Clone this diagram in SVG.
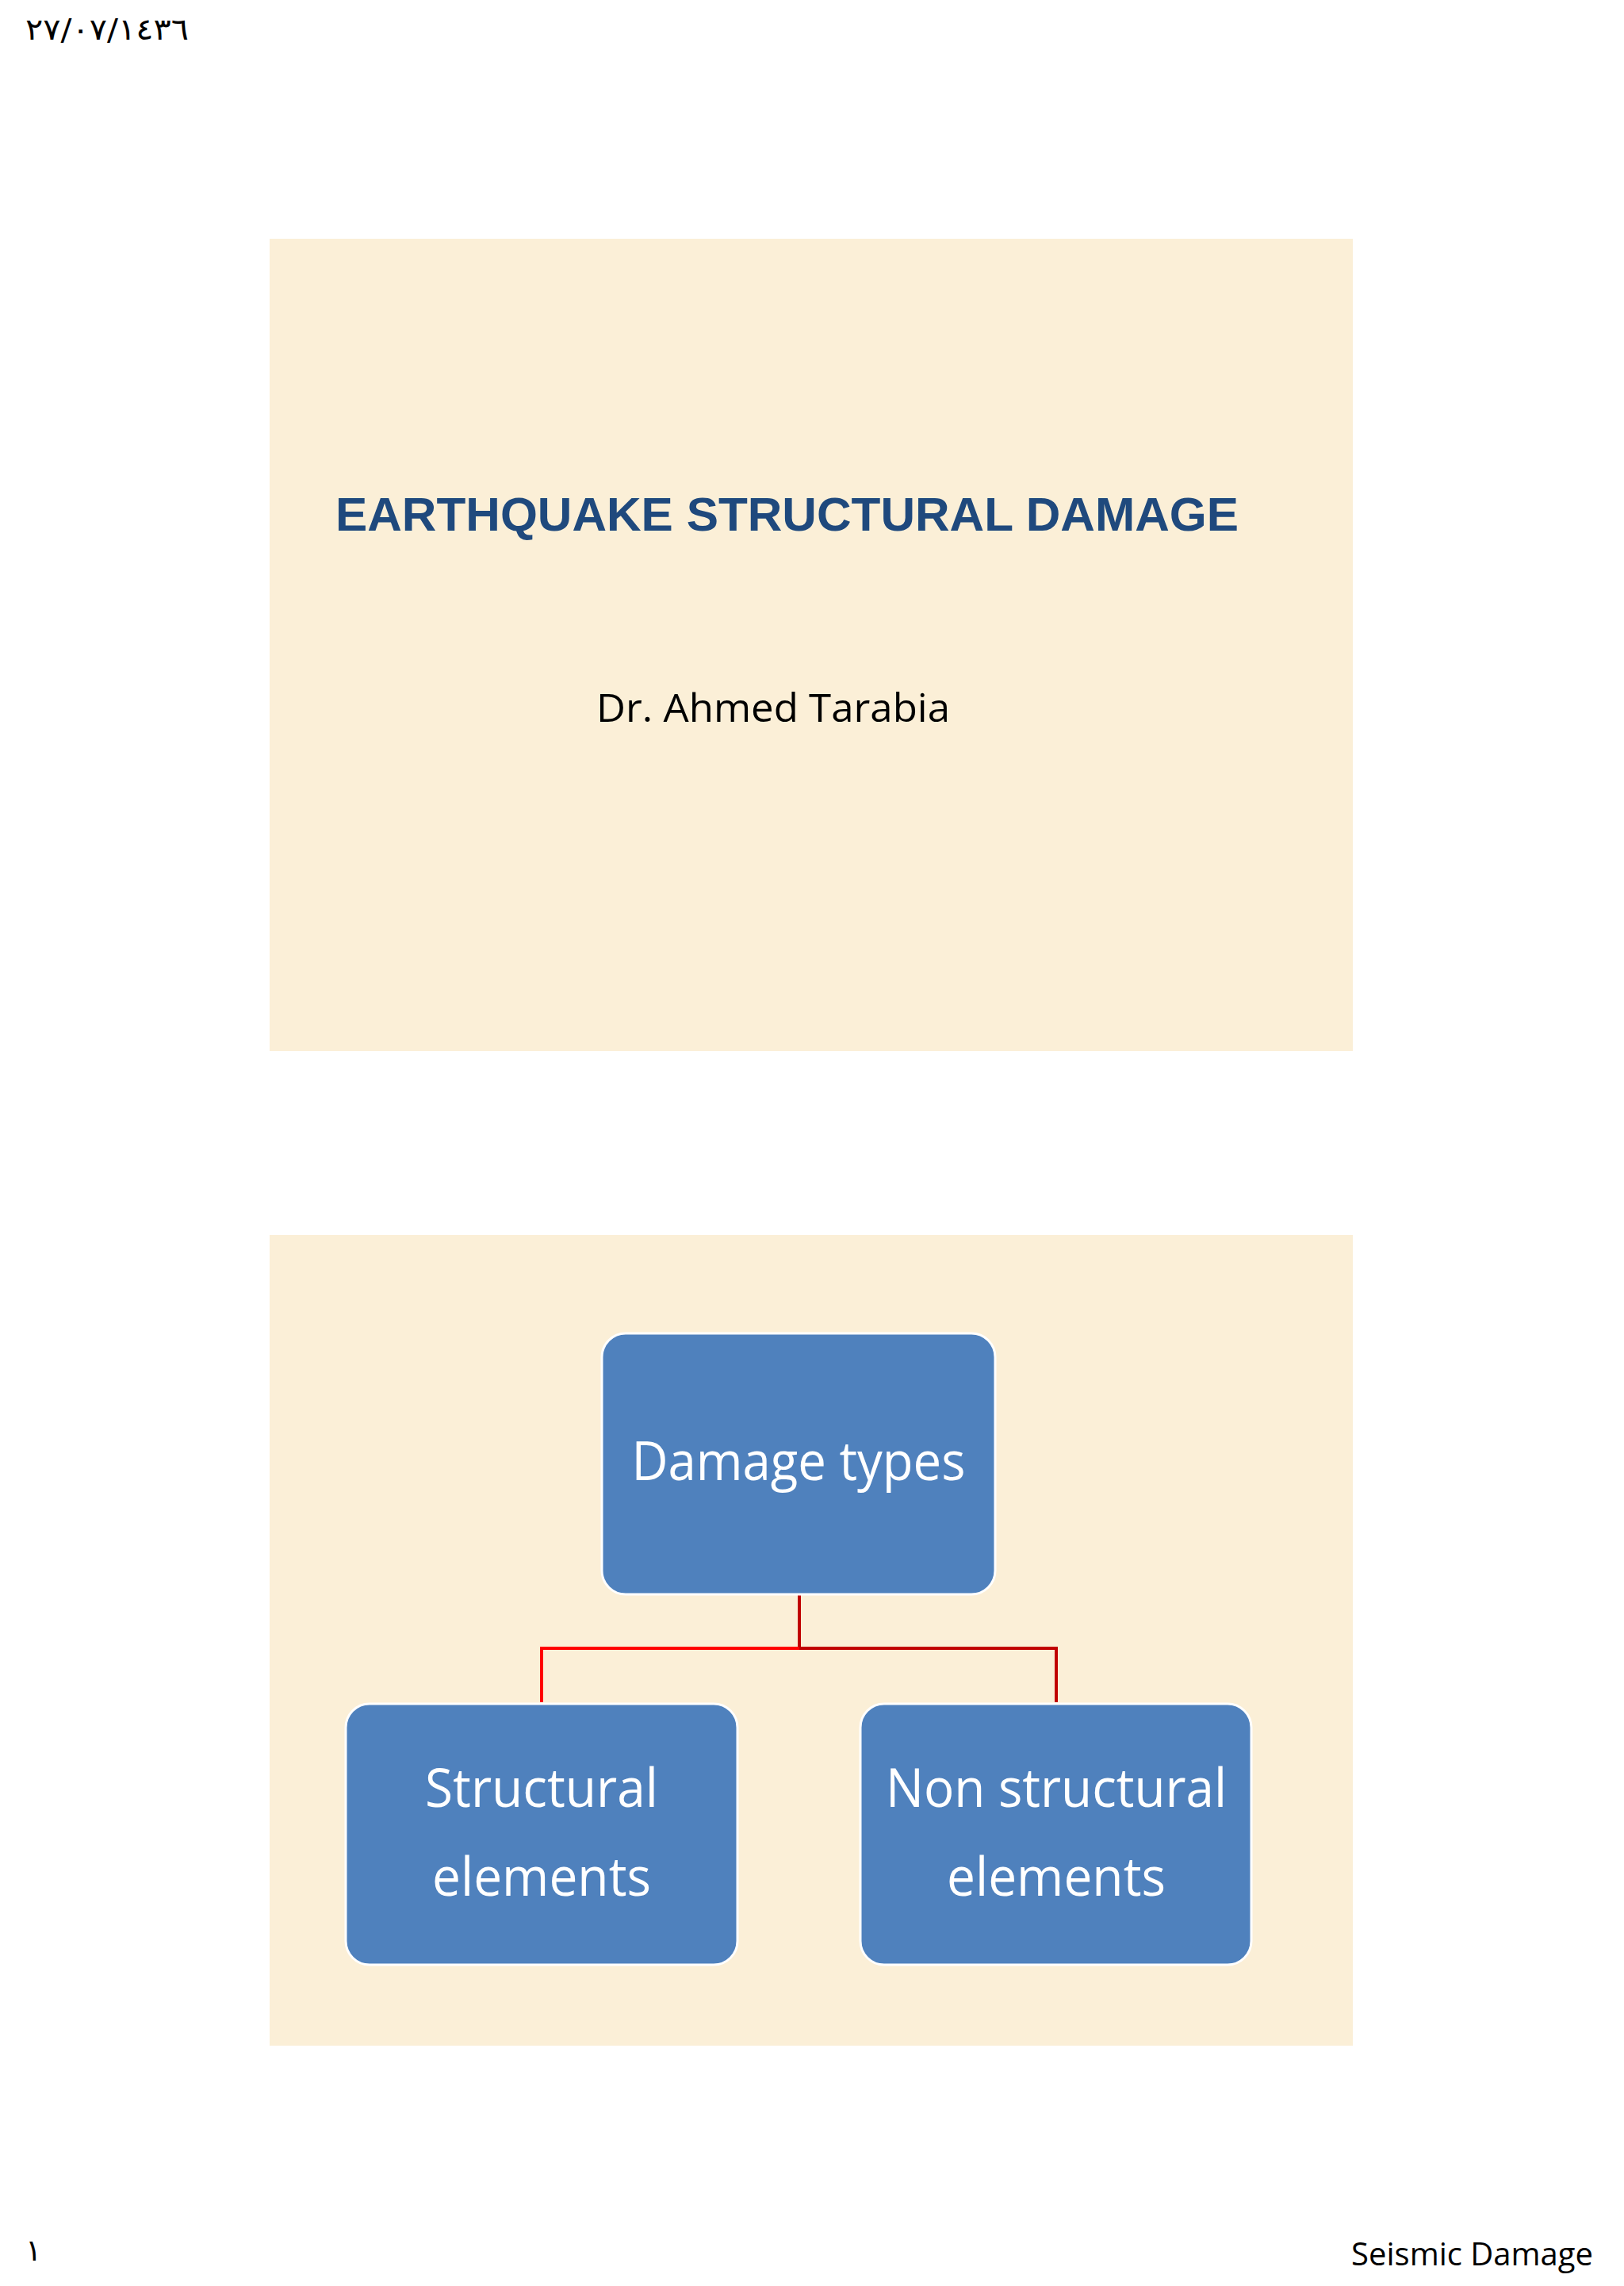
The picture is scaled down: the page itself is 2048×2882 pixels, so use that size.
<svg xmlns="http://www.w3.org/2000/svg" width="2048" height="2882" viewBox="0 0 2048 2882">
<style>
.slide{fill:#fbefd7}
.box{fill:#4f81bd;stroke:#ffffff;stroke-width:3}
.bt{font-family:"Open Sans","Liberation Sans",sans-serif;font-size:68px;fill:#ffffff;text-anchor:middle}
</style>
<rect width="2048" height="2882" fill="#ffffff"/>
<text x="32" y="50" font-family="'DejaVu Sans',sans-serif" font-size="38" textLength="206" lengthAdjust="spacingAndGlyphs">٢٧/٠٧/١٤٣٦</text>
<rect class="slide" x="340" y="301" width="1366" height="1024"/>
<text x="423" y="669" font-family="'Liberation Sans',sans-serif" font-weight="bold" font-size="60" fill="#1f497d" textLength="1139" lengthAdjust="spacingAndGlyphs">EARTHQUAKE STRUCTURAL DAMAGE</text>
<text x="752" y="910" font-family="'Open Sans','Liberation Sans',sans-serif" font-size="50" fill="#000" textLength="446" lengthAdjust="spacingAndGlyphs">Dr. Ahmed Tarabia</text>
<rect class="slide" x="340" y="1557" width="1366" height="1022"/>
<g id="connectors" fill="none" stroke-width="4">
<path d="M1008 2010 V2078 H1332 V2146" stroke="#c00000"/>
<path d="M1008 2078 H683 V2146" stroke="#ff0000"/>
</g>
<g id="n1"><rect class="box" x="759" y="1681" width="496" height="329" rx="30"/><text class="bt" x="1007" y="1866" textLength="421" lengthAdjust="spacingAndGlyphs">Damage types</text></g>
<g id="n2"><rect class="box" x="436" y="2148" width="494" height="329" rx="30"/><text class="bt" x="683" y="2278" textLength="294" lengthAdjust="spacingAndGlyphs">Structural</text><text class="bt" x="683" y="2390" textLength="276" lengthAdjust="spacingAndGlyphs">elements</text></g>
<g id="n3"><rect class="box" x="1085" y="2148" width="493" height="329" rx="30"/><text class="bt" x="1332" y="2278" textLength="430" lengthAdjust="spacingAndGlyphs">Non structural</text><text class="bt" x="1332" y="2390" textLength="276" lengthAdjust="spacingAndGlyphs">elements</text></g>
<text x="2009" y="2856" text-anchor="end" font-family="'Open Sans','Liberation Sans',sans-serif" font-size="40">Seismic Damage</text>
<text x="32" y="2850" font-family="'DejaVu Sans',sans-serif" font-size="38">١</text>
</svg>
